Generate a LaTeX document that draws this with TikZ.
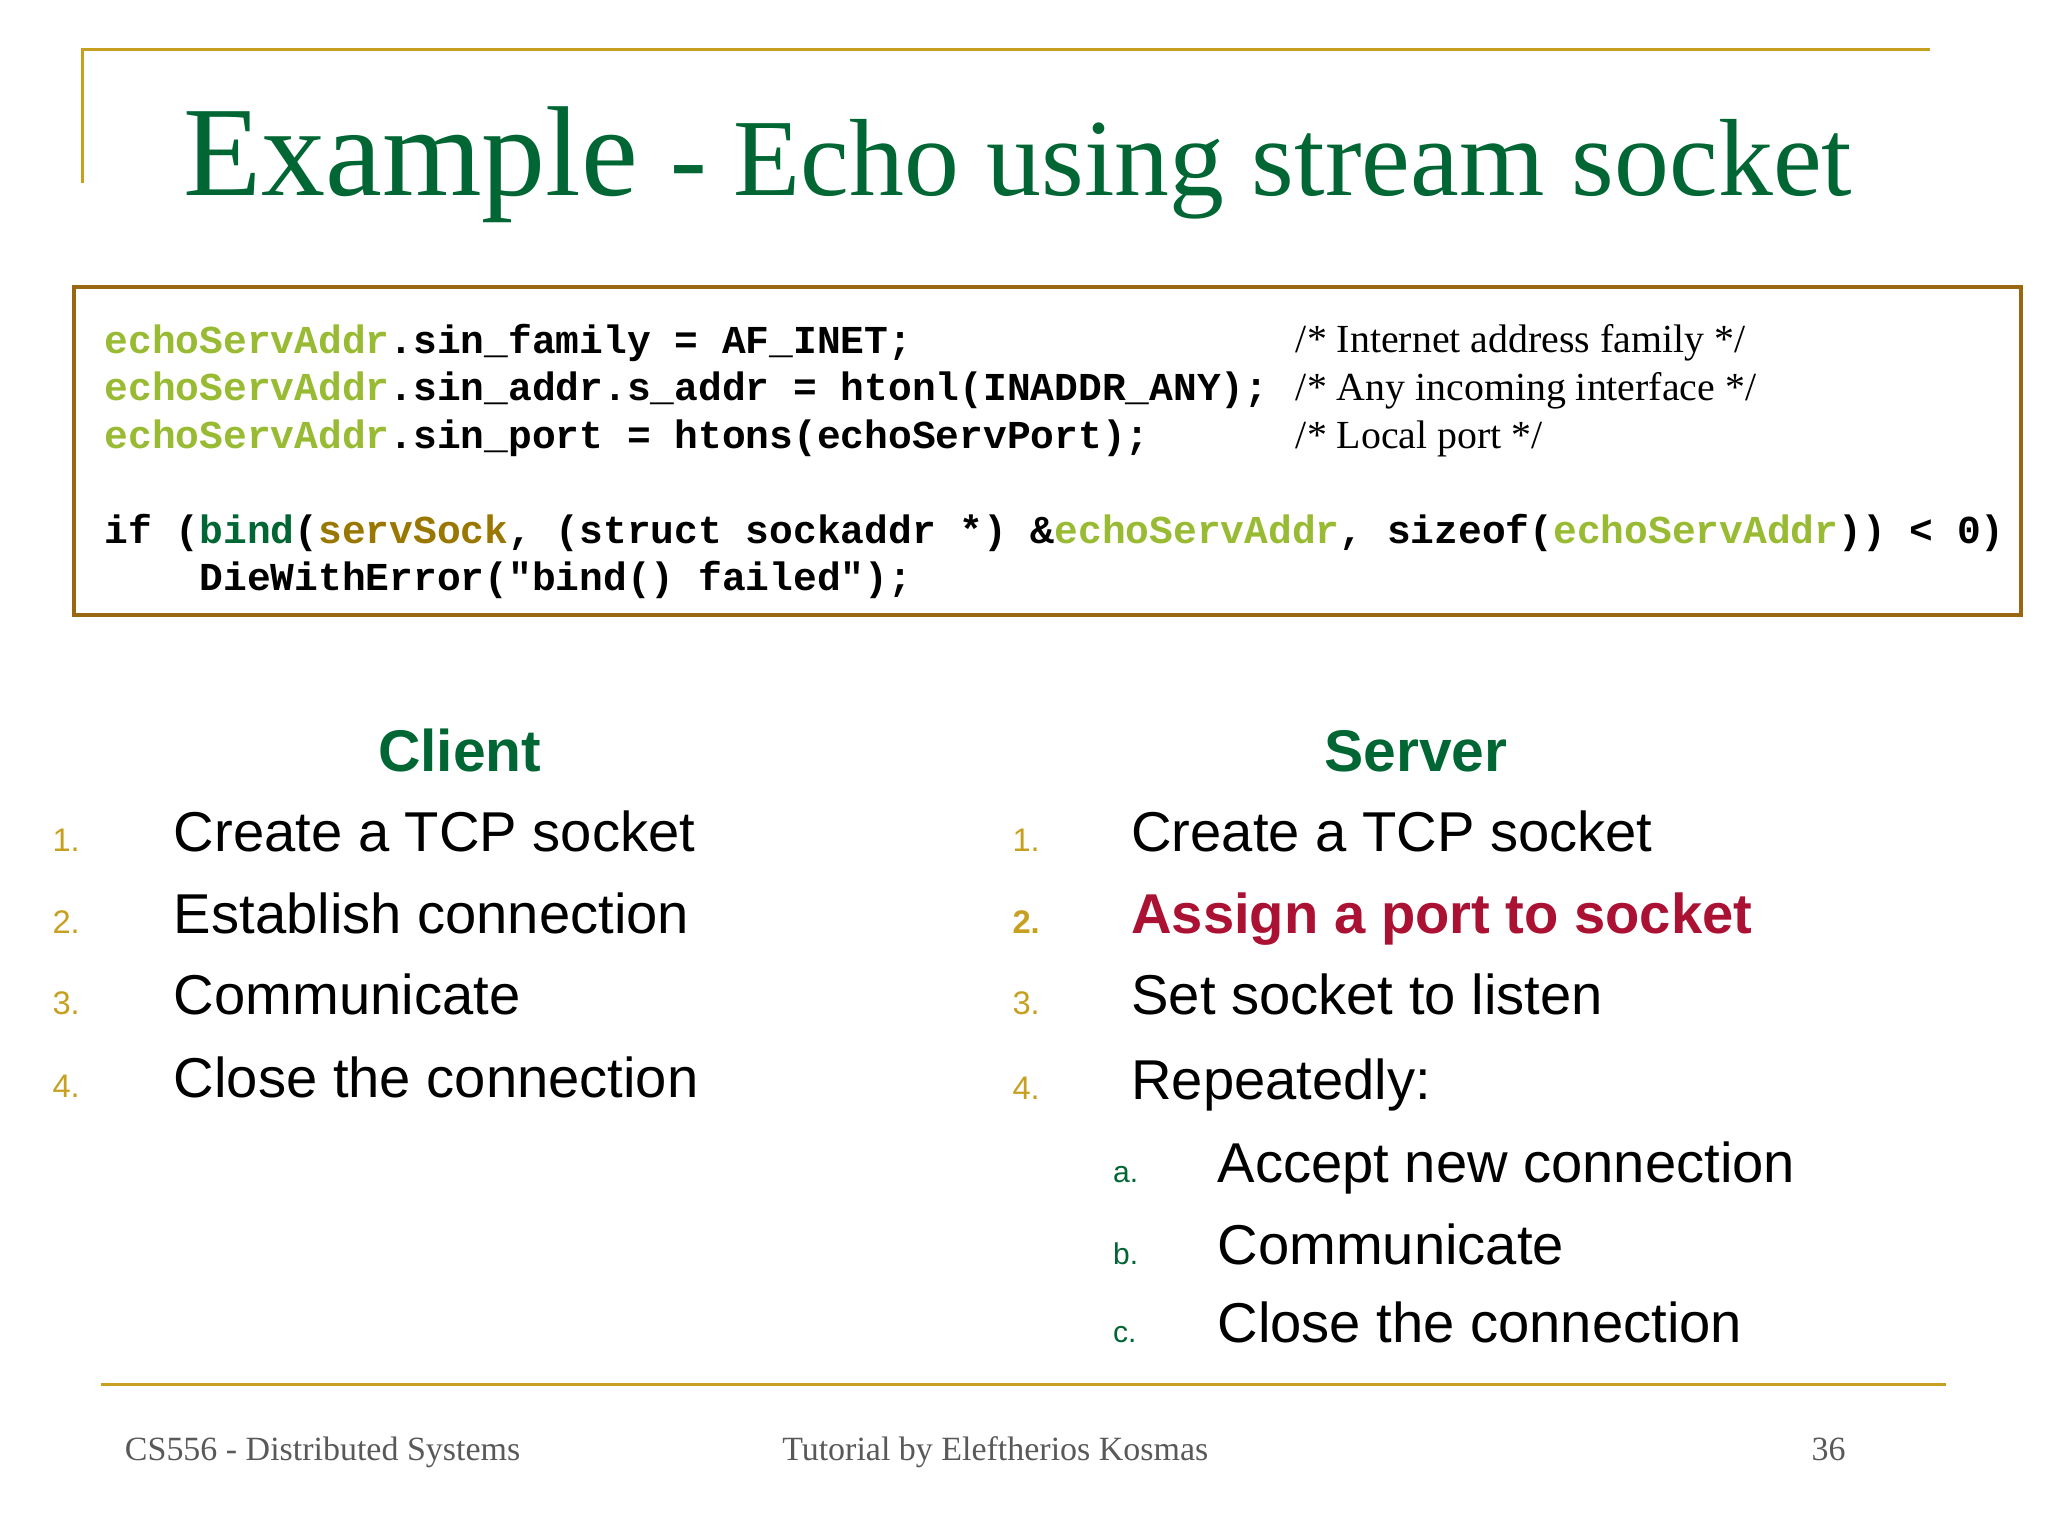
\documentclass[tikz,border=0pt]{standalone}
\usepackage{fontspec}
\setmainfont{Liberation Serif}
\setsansfont{Liberation Sans}
\setmonofont{Liberation Mono}
\definecolor{ttl}{HTML}{006633}
\definecolor{gold}{HTML}{C8A020}
\definecolor{boxc}{HTML}{996611}
\definecolor{cg}{HTML}{99BB33}
\definecolor{ol}{HTML}{997700}
\definecolor{redc}{HTML}{AA1133}
\begin{document}
\begin{tikzpicture}[x=1pt,y=-1pt,
  tx/.style={anchor=base west,inner sep=0pt},
  codet/.style={tx,font=\fontsize{30.3}{30}\ttfamily\bfseries},
  cmt/.style={tx,font=\fontsize{30.5}{30}\rmfamily},
  itemt/.style={tx,font=\fontsize{43}{43}\sffamily},
  numt/.style={tx,font=\fontsize{25}{25}\sffamily,text=gold},
  hdt/.style={anchor=base,inner sep=0pt,font=\fontsize{45}{45}\sffamily\bfseries,text=ttl},
  ftt/.style={inner sep=0pt,anchor=base,font=\fontsize{26}{26}\rmfamily,text=black!65}]
\useasboundingbox (0,0) rectangle (1568,1177);
\fill[white] (0,0) rectangle (1568,1177);
\draw[gold,line width=2.5] (63,140) -- (63,38) -- (1478,38);
\node[tx,text=ttl] (title) at (140,150) {\fontsize{98}{98}\selectfont Example \fontsize{84}{84}\selectfont - Echo using stream socket};
\draw[boxc,line width=3] (57,220) rectangle (1547,471);
\node[codet] (c1) at (80,271) {\textcolor{cg}{echoServAddr}.sin\_family = AF\_INET;};
\node[codet] (c2) at (80,307) {\textcolor{cg}{echoServAddr}.sin\_addr.s\_addr = htonl(INADDR\_ANY);};
\node[codet] (c3) at (80,343) {\textcolor{cg}{echoServAddr}.sin\_port = htons(echoServPort);};
\node[cmt] (m1) at (992,270) {/* Internet address family */};
\node[cmt] (m2) at (992,307) {/* Any incoming interface */};
\node[cmt] (m3) at (992,343) {/* Local port */};
\node[codet] (c4) at (80,416) {if (\textcolor{ttl}{bind}(\textcolor{ol}{servSock}, (struct sockaddr *) \&\textcolor{cg}{echoServAddr}, sizeof(\textcolor{cg}{echoServAddr})) < 0)};
\node[codet] (c5) at (80,452) {\ \ \ \ DieWithError("bind() failed");};
\node[hdt] (ch) at (352,591) {Client};
\node[hdt] (sh) at (1084,591) {Server};
\foreach \n/\y/\s in {1/652/Create a TCP socket,2/715/Establish connection,3/777/Communicate,4/840/Close the connection}{
  \node[numt] (cn\n) at (40,\y) {\n.};
  \node[itemt] (ci\n) at (133,\y) {\s};}
\node[numt] (sn1) at (775,652) {1.};
\node[itemt] (si1) at (866,652) {Create a TCP socket};
\node[numt,font=\fontsize{25}{25}\sffamily\bfseries] (sn2) at (775,715) {2.};
\node[itemt,font=\fontsize{43}{43}\sffamily\bfseries,text=redc] (si2) at (866,715) {Assign a port to socket};
\node[numt] (sn3) at (775,777) {3.};
\node[itemt] (si3) at (866,777) {Set socket to listen};
\node[numt] (sn4) at (775,842) {4.};
\node[itemt] (si4) at (866,842) {Repeatedly:};
\foreach \n/\y/\s in {a/905/Accept new connection,b/968/Communicate,c/1028/Close the connection}{
  \node[numt,text=ttl,font=\fontsize{23}{23}\sffamily] (sa\n) at (852,\y) {\n.};
  \node[itemt] (sb\n) at (932,\y) {\s};}
\draw[gold,line width=2.5] (77,1060) -- (1490,1060);
\node[ftt] (f1) at (247,1118) {CS556 - Distributed Systems};
\node[ftt] (f2) at (762,1118) {Tutorial by Eleftherios Kosmas};
\node[ftt] (f3) at (1400,1118) {36};
\end{tikzpicture}
\end{document}
